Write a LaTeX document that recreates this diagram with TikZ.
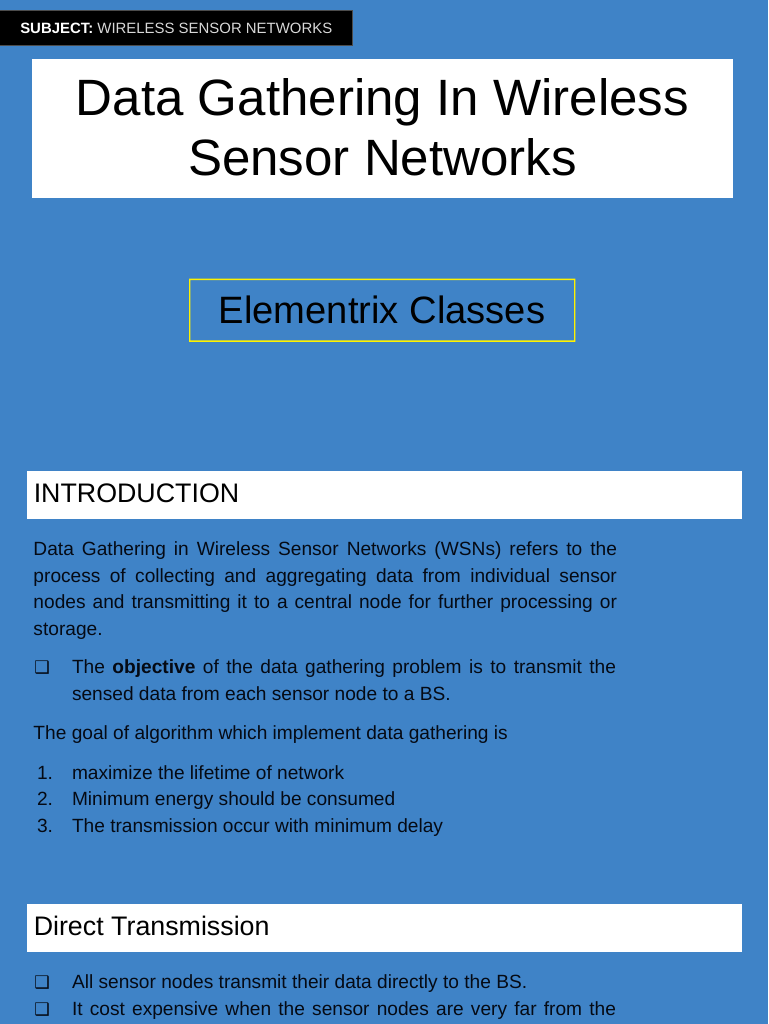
\documentclass[tikz,border=0pt]{standalone}
\usepackage{fontspec}
\setmainfont{Liberation Sans}
\newfontfamily\symf{DejaVu Sans}
\definecolor{bg}{HTML}{3F83C7}
\definecolor{ink}{HTML}{050A14}
\newcommand{\just}[2]{\makebox[#1][s]{#2}}
\tikzset{
  px/.style={x=0.75pt,y=-0.75pt},
  band/.style={fill=white,draw=none},
  body/.style={anchor=base west,inner sep=0pt,outer sep=0pt,text=ink,font=\fontsize{14.35pt}{16pt}\selectfont},
  head/.style={anchor=base west,inner sep=0pt,text=black,font=\fontsize{20.1pt}{24pt}\selectfont},
  titletxt/.style={anchor=base,inner sep=0pt,text=black,font=\fontsize{38.3pt}{44pt}\selectfont},
  bul/.style={anchor=base west,inner sep=0pt,text=ink,font=\symf\bfseries\fontsize{13pt}{15pt}\selectfont},
}
\begin{document}
\begin{tikzpicture}[px]
\useasboundingbox (0,0) rectangle (768,1024);
\fill[bg] (0,0) rectangle (768,1024);
% subject bar
\fill[black,draw=black!70!white,line width=0.5pt] (-2,10.5) rectangle (352.5,45.5);
\node[anchor=base west,inner sep=0pt,text=white,font=\fontsize{11.2pt}{14pt}\selectfont] (subj) at (20,34) {\textbf{SUBJECT:} \textcolor{white!85!black}{WIRELESS SENSOR NETWORKS}};
% title
\fill[band] (32,59) rectangle (733,198);
\node[titletxt] (t1) at (382.5,115) {Data Gathering In Wireless};
\node[titletxt] (t2) at (382.5,175) {Sensor Networks};
% classes box
\fill[yellow,even odd rule] (189,278.6) rectangle (575.4,341.8) (190.4,280) rectangle (574,340.4);
\node[anchor=base,inner sep=0pt,text=black,font=\fontsize{28.6pt}{32pt}\selectfont] (cls) at (382,323) {Elementrix Classes};
% introduction
\fill[band] (26.5,471) rectangle (742,519);
\node[head] (h1) at (33.5,502.5) {INTRODUCTION};
\node[body] (a1) at (33.5,555) {\just{437.6pt}{Data Gathering in Wireless Sensor Networks (WSNs) refers to the}};
\node[body] (a2) at (33.5,582) {\just{437.6pt}{process of collecting and aggregating data from individual sensor}};
\node[body] (a3) at (33.5,608) {\just{437.6pt}{nodes and transmitting it to a central node for further processing or}};
\node[body] (a4) at (33.5,635) {storage.};
\node[bul] (b1) at (34,673) {❑};
\node[body] (c1) at (72,673) {\just{408pt}{The \textbf{objective} of the data gathering problem is to transmit the}};
\node[body] (c2) at (72,700) {sensed data from each sensor node to a BS.};
\node[body] (d) at (33.5,739) {The goal of algorithm which implement data gathering is};
\node[body] (n1) at (37,779) {1.};
\node[body] (l1) at (72,779) {maximize the lifetime of network};
\node[body] (n2) at (37,805) {2.};
\node[body] (l2) at (72,805) {Minimum energy should be consumed};
\node[body] (n3) at (37,832) {3.};
\node[body] (l3) at (72,832) {The transmission occur with minimum delay};
% direct
\fill[band] (26.5,904) rectangle (742,952);
\node[head] (h2) at (33.5,935.5) {Direct Transmission};
\node[bul] (b2) at (34,988) {❑};
\node[body] (e1) at (72,988) {All sensor nodes transmit their data directly to the BS.};
\node[bul] (b3) at (34,1015) {❑};
\node[body] (e2) at (72,1015) {\just{408pt}{It cost expensive when the sensor nodes are very far from the}};
\end{tikzpicture}
\end{document}
